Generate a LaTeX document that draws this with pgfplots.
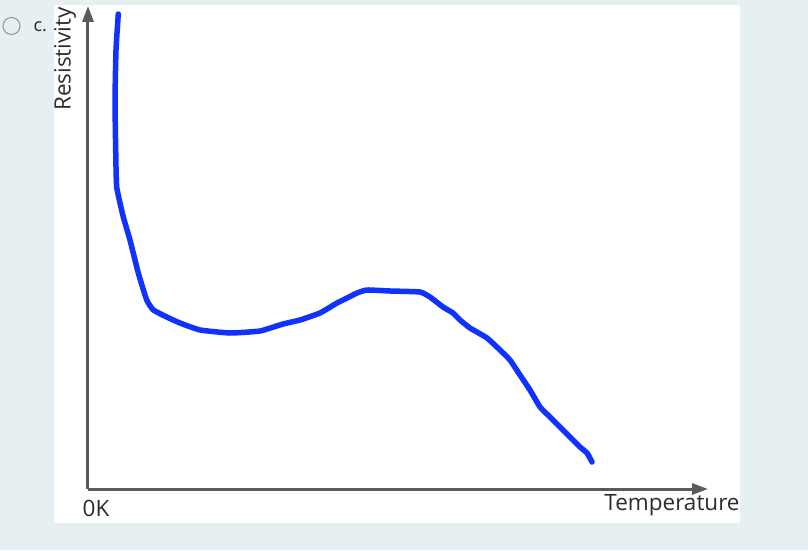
\documentclass[border=0pt]{standalone}
\usepackage{fontspec}
\setmainfont{Open Sans}
\usepackage{pgfplots}
\pgfplotsset{compat=1.18}
\usetikzlibrary{arrows.meta}

\definecolor{pagebg}{RGB}{230,240,243}
\definecolor{axisgray}{RGB}{90,90,90}
\definecolor{curveblue}{RGB}{15,50,255}
\definecolor{labeltext}{RGB}{45,45,45}

\pgfplotstableread{
x   y
30.3 475
28   439
27   389
27.7 339
28.7 302
35.3 272
42   249
50.3 216
58.7 189
65.3 179
78.7 172
92   166
112  159
142  156
172  158
195  165
212  169
232  176
249  186
259  191
269  196
279  199
302  198
332  197
342  192
355  182
365  176
372  169
382  161
399  151
412  139
422  129
432  114
442  99
452  82
462  72
472  62
482  52
492  42
499  36
504  27
}\curvedata

\begin{document}
\begin{tikzpicture}[x=1pt,y=1pt]
	% page background and white panel
	\fill[pagebg] (0,0) rectangle (808,550);
	\fill[white] (54,27) rectangle (740,545);
	% radio button and option letter
	\draw[gray!80, line width=1.1pt] (11.5,524) circle (8.5);
	\node[anchor=west, font=\fontsize{18}{21}\selectfont, text=black!85] at (30,523.5) {c.};

	\begin{axis}[
		at={(88,61)},
		anchor=origin,
		x=1pt, y=1pt,
		xmin=0, xmax=620,
		ymin=0, ymax=483,
		axis lines=left,
		axis line style={axisgray, line width=3pt, -{Triangle[length=16pt,width=11pt]}},
		xtick=\empty, ytick=\empty,
		clip=false,
	]
	\addplot[curveblue, line width=5.5pt, line join=round, line cap=round, smooth, tension=0.25]
		table[x=x, y=y] {\curvedata};
	\node[font=\fontsize{22.5}{26}\selectfont, text=labeltext] at (axis cs:8,-19) {0K};
	\node[font=\fontsize{22.5}{26}\selectfont, text=labeltext] at (axis cs:584,-16) {Temperature};
	\node[font=\fontsize{22.5}{26}\selectfont, text=labeltext, rotate=90] at (axis cs:-23,430) {Resistivity};
	\end{axis}

	\pgfresetboundingbox
	\path[use as bounding box] (0,0) rectangle (808,550);
\end{tikzpicture}
\end{document}
